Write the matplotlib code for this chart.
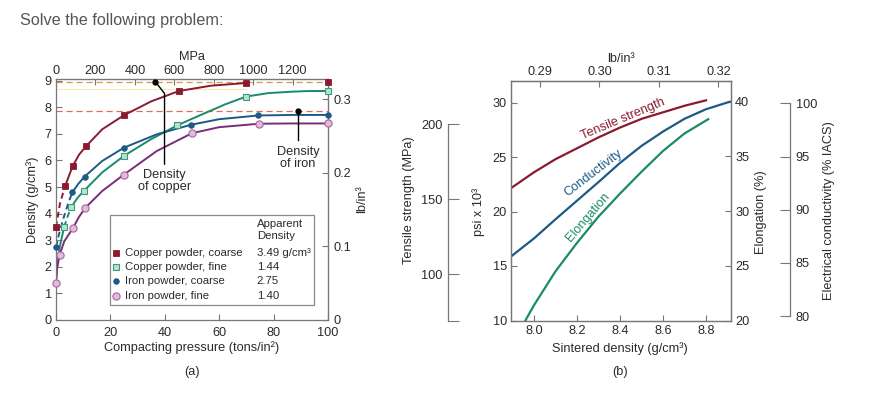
import numpy as np
import matplotlib.pyplot as plt
from matplotlib.patches import Rectangle

plt.rcParams['font.family'] = ['Liberation Sans', 'DejaVu Sans']
plt.rcParams['font.size'] = 9.2
plt.rcParams['text.color'] = '#2a2a2a'
plt.rcParams['axes.edgecolor'] = '#777777'
plt.rcParams['xtick.color'] = '#777777'
plt.rcParams['ytick.color'] = '#777777'
plt.rcParams['xtick.labelcolor'] = '#2a2a2a'
plt.rcParams['ytick.labelcolor'] = '#2a2a2a'
plt.rcParams['axes.labelcolor'] = '#2a2a2a'

TON_TO_MPA = 13.79
GCC_TO_LBIN3 = 0.036127
copper_density = 8.96
iron_density = 7.87

# ---- (a) compacting pressure (tons/in^2) vs density (g/cm^3) ----
# measured points (markers)
cu_coarse_x = [0, 3.4, 6.1, 11.1, 25.0, 45.2, 69.8, 100]
cu_coarse_y = [3.49, 5.05, 5.78, 6.54, 7.70, 8.61, 8.91, 8.94]
cu_fine_x = [3.0, 5.6, 10.3, 25.1, 44.6, 69.9, 100]
cu_fine_y = [3.50, 4.24, 4.86, 6.18, 7.32, 8.40, 8.61]
fe_coarse_x = [0, 6.0, 10.5, 25.0, 49.6, 74.4, 100]
fe_coarse_y = [2.75, 4.80, 5.39, 6.48, 7.34, 7.69, 7.71]
fe_fine_x = [0, 1.3, 6.2, 10.6, 25.0, 49.9, 74.7, 100]
fe_fine_y = [1.40, 2.44, 3.45, 4.20, 5.47, 7.02, 7.38, 7.39]

# curves
cu_coarse_dash_x = [0, 1.5, 3.4]
cu_coarse_dash_y = [3.49, 4.40, 5.05]
cu_coarse_line_x = [3.4, 6.1, 8.5, 11.1, 17, 25.0, 35, 45.2, 57, 69.8]
cu_coarse_line_y = [5.05, 5.78, 6.22, 6.54, 7.17, 7.70, 8.22, 8.61, 8.81, 8.91]

cu_fine_low_x = [0, 0.43, 1.4, 3.0]
cu_fine_low_y = [1.44, 2.00, 2.76, 3.50]
cu_fine_dash_x = [3.0, 4.3, 5.6]
cu_fine_dash_y = [3.50, 3.90, 4.24]
cu_fine_line_x = [5.6, 7.8, 10.3, 17, 25.1, 35, 44.6, 53, 62, 69.9, 78, 86, 93, 100]
cu_fine_line_y = [4.24, 4.58, 4.86, 5.55, 6.18, 6.80, 7.32, 7.70, 8.10, 8.40, 8.53, 8.58, 8.61, 8.61]

fe_coarse_dash_x = [0, 1.4, 2.9, 4.4, 6.0]
fe_coarse_dash_y = [2.75, 3.35, 3.88, 4.36, 4.80]
fe_coarse_line_x = [6.0, 8.2, 10.5, 17, 25.0, 37, 49.6, 60, 74.4, 87, 100]
fe_coarse_line_y = [4.80, 5.12, 5.39, 5.98, 6.48, 6.98, 7.34, 7.55, 7.69, 7.71, 7.71]

fe_fine_line_x = [0, 0.4, 1.3, 3.0, 6.2, 8.3, 10.6, 17, 25.0, 37, 49.9, 60, 74.7, 87, 100]
fe_fine_line_y = [1.40, 1.95, 2.44, 2.95, 3.45, 3.85, 4.20, 4.85, 5.47, 6.35, 7.02, 7.25, 7.38, 7.39, 7.39]

legend_names = ['Copper powder, coarse', 'Copper powder, fine',
                'Iron powder, coarse', 'Iron powder, fine']
legend_values = ['3.49 g/cm³', '1.44', '2.75', '1.40']

# ---- (b) sintered density vs properties ----
dens_ts = [7.89, 8.0, 8.1, 8.2, 8.3, 8.4, 8.5, 8.6, 8.7, 8.8]
tensile_ksi = [22.1, 23.6, 24.8, 25.8, 26.8, 27.7, 28.5, 29.1, 29.7, 30.2]
dens_cond = [7.89, 8.0, 8.1, 8.2, 8.3, 8.4, 8.5, 8.6, 8.7, 8.8, 8.91]
conductivity = [85.55, 87.3, 89.1, 90.85, 92.6, 94.4, 96.0, 97.35, 98.55, 99.45, 100.15]
dens_el = [7.96, 8.0, 8.1, 8.2, 8.3, 8.4, 8.5, 8.6, 8.7, 8.81]
elongation = [20.0, 21.4, 24.5, 27.1, 29.5, 31.6, 33.6, 35.5, 37.1, 38.4]

RED = '#8b1a30'
TEAL = '#1b8a6b'
BLUE = '#1d5a85'
PURPLE = '#7a2c78'
LBL = 9.2

W, H = 877, 399
fig = plt.figure(figsize=(W / 100, H / 100), dpi=100)
fig.text(20 / W, 1 - 20 / H, 'Solve the following problem:', fontsize=11.7,
         color='#555555', va='center', ha='left')

# ================= (a) =================
ax = fig.add_axes([56 / W, 1 - 320 / H, 272 / W, 240.7 / H])
ax.set_xlim(0, 100)
ax.set_ylim(0, 9.05)
ax.set_xticks(range(0, 101, 20))
ax.set_yticks(range(0, 10))
ax.tick_params(direction='in', length=4, width=0.8, pad=3)
ax.tick_params(axis='x', pad=5)
for s in ax.spines.values():
    s.set_linewidth(0.9)

ax.axhline(copper_density, color='#d49a50', ls=(0, (5, 3)), lw=0.9, zorder=1)
ax.plot([0, 70], [8.68, 8.68], color='#f4ecb0', lw=0.8, zorder=0)
ax.axhline(iron_density, color='#d8705e', ls=(0, (5, 3)), lw=0.9, zorder=1)

lw = 1.4
ax.plot(cu_coarse_dash_x, cu_coarse_dash_y, color=RED, lw=lw, ls=(0, (3, 2)))
ax.plot(cu_coarse_line_x, cu_coarse_line_y, color=RED, lw=lw)
ax.plot(cu_fine_low_x, cu_fine_low_y, color=TEAL, lw=lw)
ax.plot(cu_fine_dash_x, cu_fine_dash_y, color=TEAL, lw=lw, ls=(0, (3, 2)))
ax.plot(cu_fine_line_x, cu_fine_line_y, color=TEAL, lw=lw)
ax.plot(fe_coarse_dash_x, fe_coarse_dash_y, color=BLUE, lw=lw, ls=(0, (3, 2)))
ax.plot(fe_coarse_line_x, fe_coarse_line_y, color=BLUE, lw=lw)
ax.plot(fe_fine_line_x, fe_fine_line_y, color=PURPLE, lw=lw)

mk_cu_c = dict(marker='s', ms=4.2, mfc=RED, mec=RED, mew=0.6, ls='none')
mk_cu_f = dict(marker='s', ms=5.0, mfc='#b8e2cc', mec='#3a9a7c', mew=0.8, ls='none')
mk_fe_c = dict(marker='o', ms=4.0, mfc=BLUE, mec=BLUE, mew=0.6, ls='none')
mk_fe_f = dict(marker='o', ms=5.2, mfc='#e8b8dc', mec='#a06a9e', mew=0.8, ls='none')
ax.plot(cu_coarse_x, cu_coarse_y, zorder=4, clip_on=False, **mk_cu_c)
ax.plot(cu_fine_x, cu_fine_y, zorder=4, clip_on=False, **mk_cu_f)
ax.plot(fe_coarse_x, fe_coarse_y, zorder=4, clip_on=False, **mk_fe_c)
ax.plot(fe_fine_x, fe_fine_y, zorder=4, clip_on=False, **mk_fe_f)

# density of copper / iron callouts
ax.plot([36.5], [copper_density], 'o', color='black', ms=3.5, zorder=5)
ax.plot([36.5, 39.9, 39.9], [copper_density, 8.52, 5.86], color='black', lw=1.0, zorder=5)
ax.text(39.9, 5.66, 'Density\nof copper', ha='center', va='top', fontsize=LBL,
        linespacing=1.0)
ax.plot([89.0], [iron_density], 'o', color='black', ms=3.5, zorder=5)
ax.plot([89.0, 89.0], [iron_density, 6.77], color='black', lw=1.0, zorder=5)
ax.text(89.0, 6.55, 'Density\nof iron', ha='center', va='top', fontsize=LBL,
        linespacing=1.0)

# legend box
tr = ax.transAxes
ax.add_patch(Rectangle((0.1985, 0.062), 0.751, 0.374, transform=tr,
                       facecolor='white', edgecolor='#8a8a8a', lw=0.9, zorder=6))
ax.text(0.738, 0.398, 'Apparent', transform=tr, va='center', ha='left',
        fontsize=8.2, zorder=7)
ax.text(0.741, 0.349, 'Density', transform=tr, va='center', ha='left',
        fontsize=8.2, zorder=7)
rows = [0.277, 0.220, 0.162, 0.098]
styles = [mk_cu_c, mk_cu_f, mk_fe_c, mk_fe_f]
for ry, name, val, st in zip(rows, legend_names, legend_values, styles):
    ax.plot([0.2217], [ry], transform=tr, zorder=7, clip_on=False, **st)
    ax.text(0.2537, ry, name, transform=tr, va='center', ha='left', fontsize=8.2,
            zorder=7)
    ax.text(0.738, ry, val, transform=tr, va='center', ha='left', fontsize=8.2,
            zorder=7)

ax.set_ylabel('Density (g/cm³)', fontsize=LBL)
ax.yaxis.set_label_coords(-0.062, 0.5)
ax.set_xlabel('Compacting pressure (tons/in²)', fontsize=LBL)
ax.xaxis.set_label_coords(0.5, -0.087)
ax.text(0.5, -0.216, '(a)', transform=tr, ha='center', va='center', fontsize=LBL)

top_a = ax.secondary_xaxis('top', functions=(lambda t: t * TON_TO_MPA,
                                             lambda m: m / TON_TO_MPA))
top_a.set_xticks(range(0, 1201, 200))
top_a.tick_params(direction='in', length=4, width=0.8, pad=2)
top_a.set_xlabel('MPa', fontsize=LBL, labelpad=3)

right_a = ax.secondary_yaxis('right', functions=(lambda d: d * GCC_TO_LBIN3,
                                                 lambda l: l / GCC_TO_LBIN3))
right_a.set_yticks([0, 0.1, 0.2, 0.3])
right_a.set_yticklabels(['0', '0.1', '0.2', '0.3'])
right_a.tick_params(direction='in', length=4, width=0.8, pad=4)
right_a.set_ylabel('lb/in³', fontsize=LBL)
right_a.yaxis.set_label_coords(1.103, 0.5, transform=tr)

# ================= (b) =================
bottom_b = 1 - 320.5 / H
height_b = 239.8 / H
axb = fig.add_axes([511 / W, bottom_b, 220 / W, height_b])
axb.set_xlim(7.893, 8.916)
axb.set_ylim(10, 32.0)
axb.set_xticks([8.0, 8.2, 8.4, 8.6, 8.8])
axb.set_xticklabels(['8.0', '8.2', '8.4', '8.6', '8.8'])
axb.set_yticks([10, 15, 20, 25, 30])
axb.tick_params(direction='in', length=4, width=0.8, pad=3)
for s in axb.spines.values():
    s.set_linewidth(0.9)

ax_el = axb.twinx()
ax_el.set_ylim(20, 41.92)
ax_el.set_yticks([20, 25, 30, 35, 40])
ax_el.tick_params(direction='in', length=4, width=0.8, pad=3)
ax_el.spines['right'].set_linewidth(0.9)

ax_iacs = axb.twinx()
ax_iacs.set_ylim(79.58, 102.13)

ax_el.plot(dens_el, elongation, color=TEAL, lw=1.6)
ax_iacs.plot(dens_cond, conductivity, color=BLUE, lw=1.6)
axb.plot(dens_ts, tensile_ksi, color=RED, lw=1.6)
ax_iacs.spines['right'].set_visible(False)
ax_iacs.set_yticks([])

axb.text(8.414, 28.49, 'Tensile strength', color=RED, rotation=22.8,
         ha='center', va='center', rotation_mode='anchor', fontsize=LBL)
axb.text(8.276, 23.5, 'Conductivity', color=BLUE, rotation=37.4,
         ha='center', va='center', rotation_mode='anchor', fontsize=LBL)
axb.text(8.253, 19.52, 'Elongation', color=TEAL, rotation=49.4,
         ha='center', va='center', rotation_mode='anchor', fontsize=LBL)

top_b = axb.secondary_xaxis('top', functions=(lambda g: g * GCC_TO_LBIN3,
                                              lambda l: l / GCC_TO_LBIN3))
top_b.set_xticks([0.29, 0.30, 0.31, 0.32])
top_b.set_xticklabels(['0.29', '0.30', '0.31', '0.32'])
top_b.tick_params(direction='in', length=4, width=0.8, pad=2)
top_b.set_xlabel('lb/in³', fontsize=LBL, labelpad=3)

trb = axb.transAxes
axb.set_xlabel('Sintered density (g/cm³)', fontsize=LBL)
axb.xaxis.set_label_coords(0.495, -0.092)
axb.text(0.495, -0.2135, '(b)', transform=trb, ha='center', va='center',
         fontsize=LBL)
axb.set_ylabel('psi x 10³', fontsize=LBL)
axb.yaxis.set_label_coords(-0.118, 0.454)
ax_el.set_ylabel('Elongation (%)', fontsize=LBL)
ax_el.yaxis.set_label_coords(1.109, 0.454, transform=trb)

# outer bracket: tensile strength in MPa
ax_mpa = fig.add_axes([448.3 / W, bottom_b, 12 / W, height_b])
ax_mpa.set_ylim(68.95, 229.1)
ax_mpa.patch.set_visible(False)
for k in ['top', 'right', 'bottom']:
    ax_mpa.spines[k].set_visible(False)
ax_mpa.spines['left'].set_bounds(68.95, 200)
ax_mpa.spines['left'].set_linewidth(0.9)
ax_mpa.set_xticks([])
ax_mpa.set_yticks([100, 150, 200])
ax_mpa.set_yticks([68.95], minor=True)
ax_mpa.tick_params(axis='y', which='both', direction='in', length=8, width=0.8, pad=4)
ax_mpa.set_ylabel('Tensile strength (MPa)', fontsize=LBL)
ax_mpa.yaxis.set_label_coords(-0.436, 0.5025, transform=trb)

# outer bracket: electrical conductivity
ax_ec = fig.add_axes([778 / W, bottom_b, 12 / W, height_b])
ax_ec.set_ylim(79.58, 102.13)
ax_ec.patch.set_visible(False)
for k in ['top', 'left', 'bottom']:
    ax_ec.spines[k].set_visible(False)
ax_ec.spines['right'].set_bounds(80, 100)
ax_ec.spines['right'].set_linewidth(0.9)
ax_ec.set_xticks([])
ax_ec.yaxis.tick_right()
ax_ec.set_yticks([80, 85, 90, 95, 100])
ax_ec.tick_params(axis='y', direction='in', length=7.5, width=0.8, pad=4)
ax_ec.yaxis.set_label_position('right')
ax_ec.set_ylabel('Electrical conductivity (% IACS)', fontsize=LBL)
ax_ec.yaxis.set_label_coords(1.418, 0.46, transform=trb)

fig.savefig('out.png', dpi=100)
